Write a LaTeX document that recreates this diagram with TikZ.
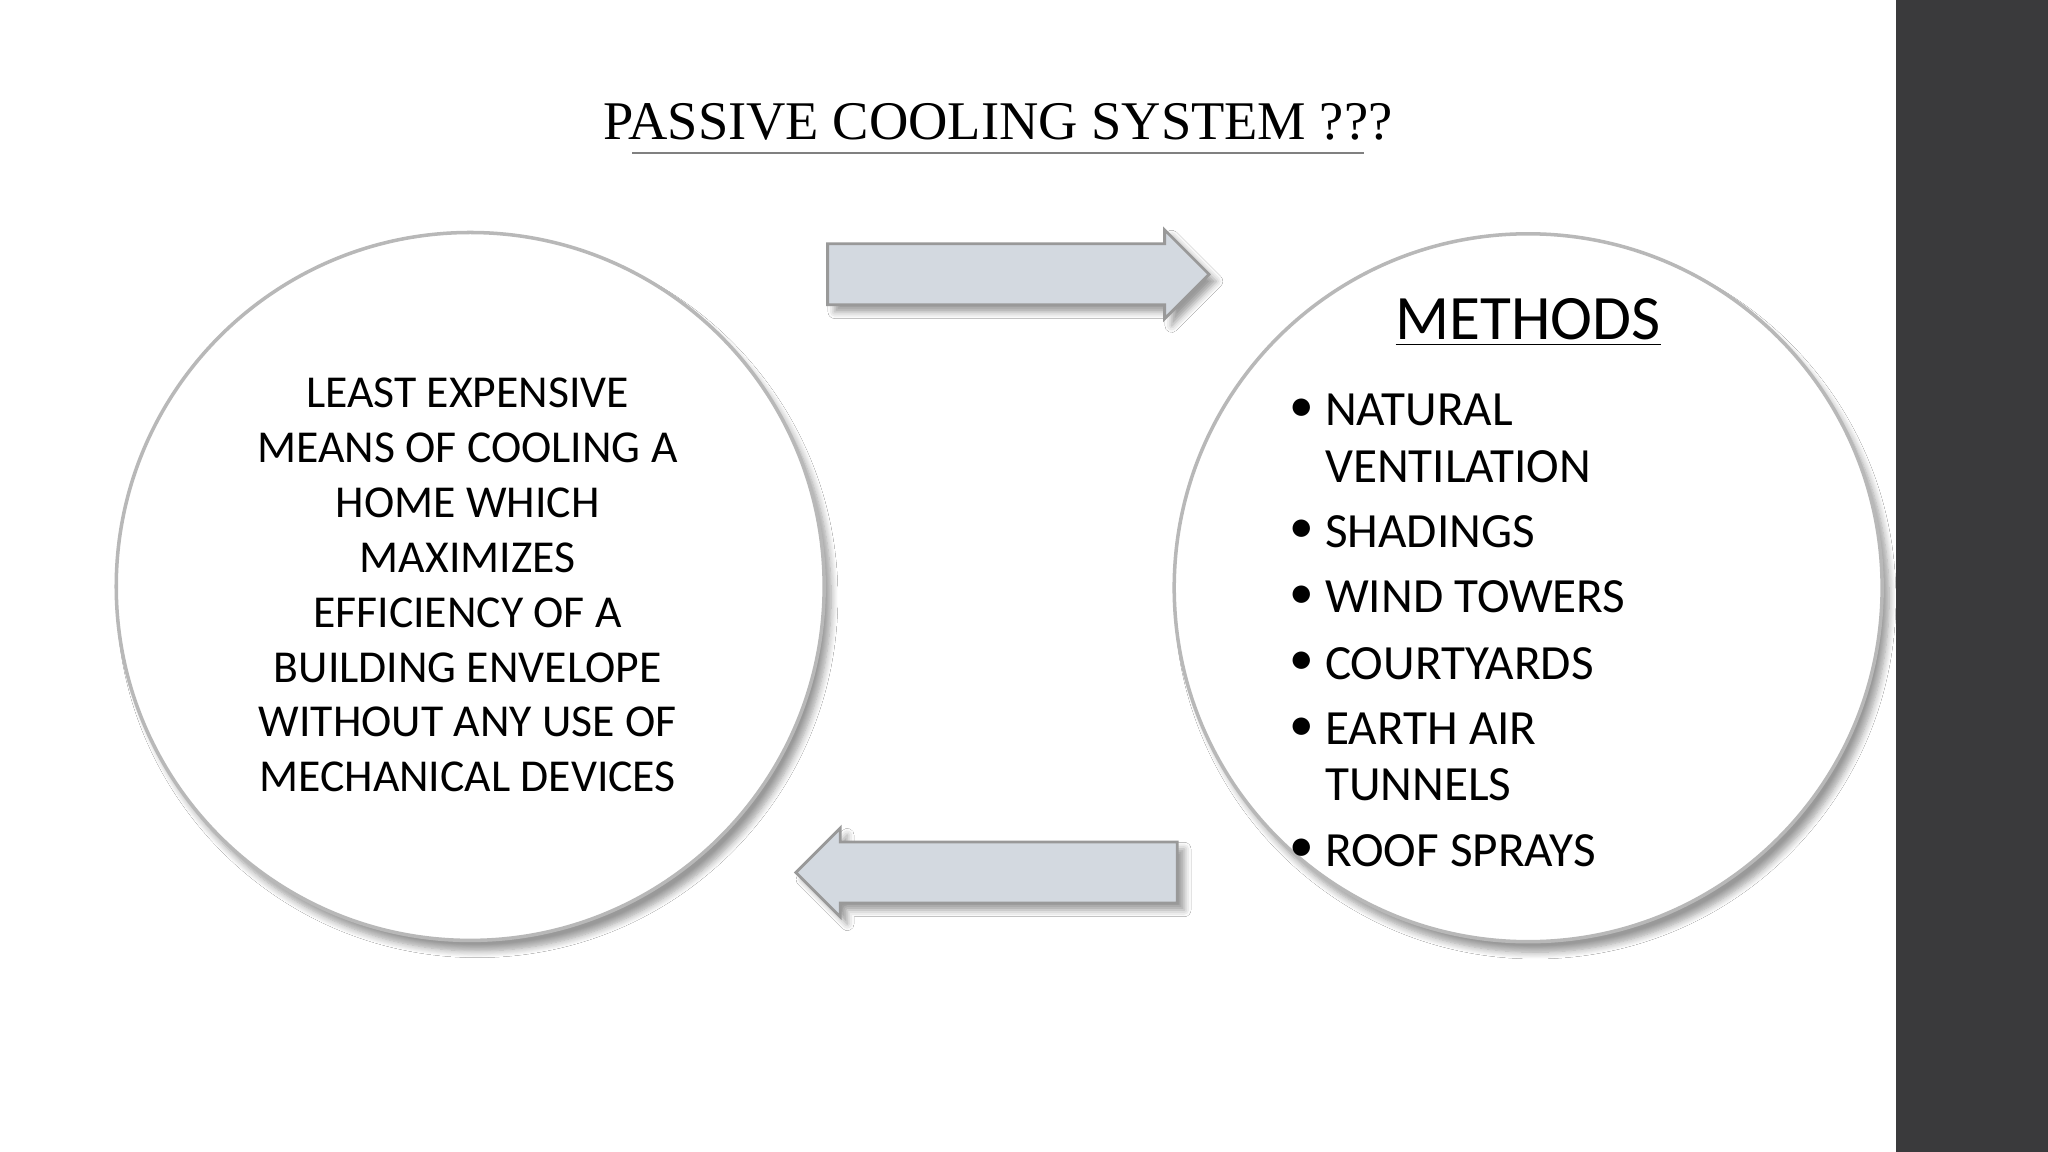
\documentclass[tikz,border=0pt]{standalone}
\usepackage{fontspec}
\setmainfont{Carlito}
\newfontfamily\titlefont{Liberation Serif}
\usetikzlibrary{shadows.blur,shapes.arrows}
\definecolor{band}{HTML}{3A3A3C}
\definecolor{arrowfill}{HTML}{D3D9E0}
\definecolor{rim}{HTML}{B8B8B8}
\tikzset{
  bubble/.style={circle,draw=rim,line width=1pt,fill=white,minimum size=542*0.013061cm,blur shadow={shadow xshift=2pt,shadow yshift=-3pt,shadow blur steps=8}},
  bigarrow/.style={single arrow,draw=gray!80,fill=arrowfill,line width=0.8pt,minimum height=292*0.013061cm,minimum width=68*0.013061cm,single arrow head extend=0.06cm,single arrow tip angle=90,blur shadow={shadow xshift=2pt,shadow yshift=-2pt}},
  lefttxt/.style={font=\fontsize{13}{15.6}\selectfont,align=center},
  item/.style={font=\fontsize{14}{16}\selectfont,anchor=west,inner sep=0pt},
  dot/.style={font=\fontsize{14}{16}\selectfont,inner sep=0pt}
}
\begin{document}
\begin{tikzpicture}[x=0.013061cm,y=-0.013061cm]
\useasboundingbox (0,0) rectangle (1568,882);
\fill[white] (0,0) rectangle (1568,882);
\fill[band] (1452,0) rectangle (1568,882);
\node[font=\titlefont\fontsize{15.5}{18}\selectfont] (title) at (764,93) {PASSIVE COOLING SYSTEM ???};
\draw[gray,line width=0.5pt] (484,117) -- (1044,117);
\node[bubble] (L) at (360,449) {};
\node[bubble] (R) at (1170,450) {};
\node[bigarrow] (a1) at (768,210) {};
\node[bigarrow,shape border rotate=180] (a2) at (767,668) {};
\node[lefttxt] (ltext) at (358,448) {LEAST EXPENSIVE\\MEANS OF COOLING A\\HOME WHICH\\MAXIMIZES\\EFFICIENCY OF A\\BUILDING ENVELOPE\\WITHOUT ANY USE OF\\MECHANICAL DEVICES};
\node[font=\fontsize{18}{20}\selectfont,inner sep=1pt] (meth) at (1170,247) {\underline{METHODS}};
\foreach \y/\t [count=\i] in {314/NATURAL,357/VENTILATION,407/SHADINGS,457/WIND TOWERS,508/COURTYARDS,558/EARTH AIR,601/TUNNELS,651/ROOF SPRAYS}{
  \node[item] (it\i) at (1014,\y) {\t};
}
\foreach \y [count=\i] in {314,407,457,508,558,651}{
  \node[dot] (d\i) at (997,\y) {\textbullet};
}
\end{tikzpicture}
\end{document}
